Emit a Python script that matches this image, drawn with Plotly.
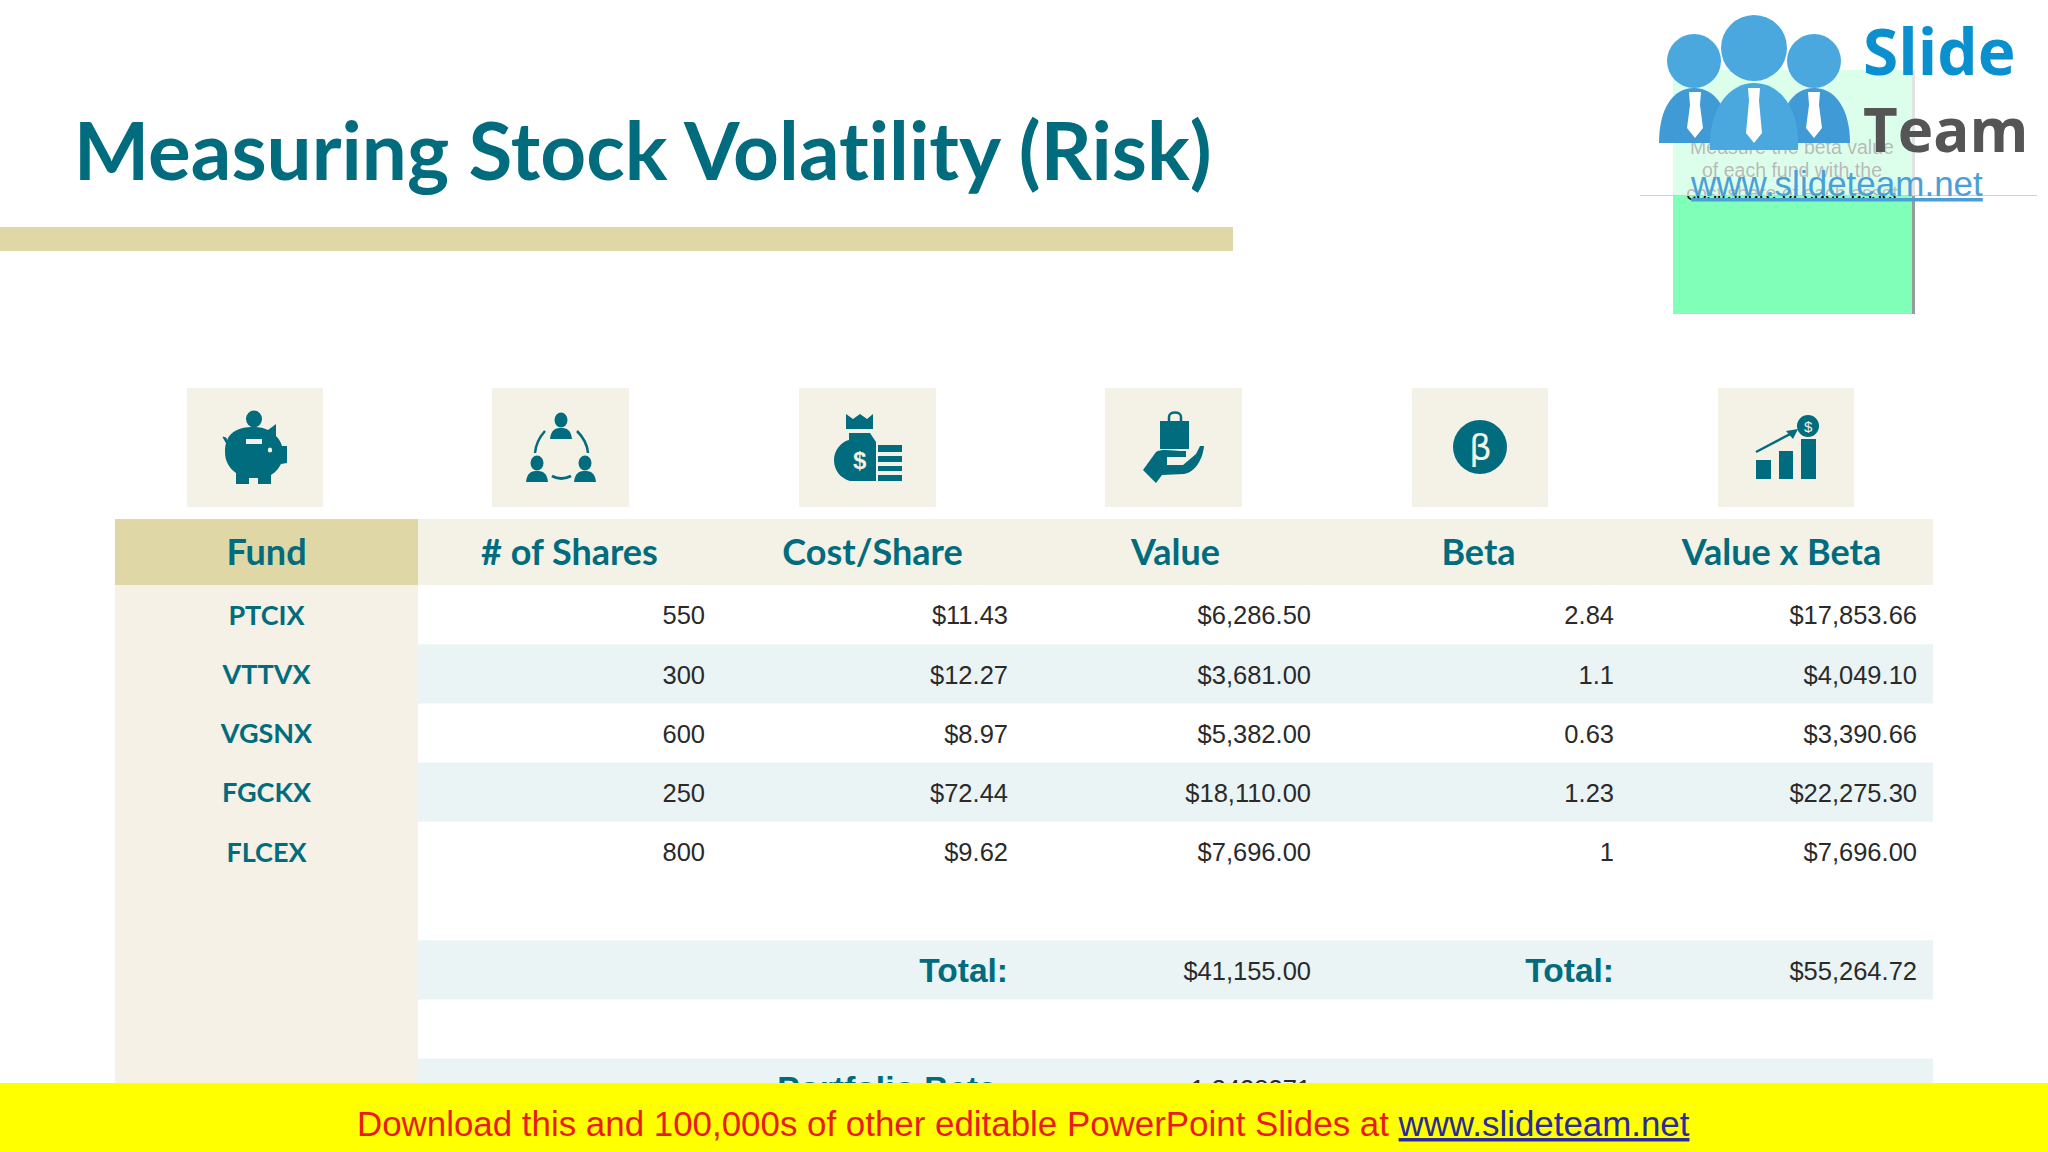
import plotly.graph_objects as go

# ---- data ----
funds = ["PTCIX", "VTTVX", "VGSNX", "FGCKX", "FLCEX"]
shares = [550, 300, 600, 250, 800]
cost_share = [11.43, 12.27, 8.97, 72.44, 9.62]
value = [6286.50, 3681.00, 5382.00, 18110.00, 7696.00]
beta = [2.84, 1.1, 0.63, 1.23, 1]
value_beta = [17853.66, 4049.10, 3390.66, 22275.30, 7696.00]
headers = ["Fund", "# of Shares", "Cost/Share", "Value", "Beta", "Value x Beta"]
total_value = 41155.00
total_value_beta = 55264.72
portfolio_beta = "1.3428371"
title = "Measuring Stock Volatility (Risk)"
note_lines = ["Measure the beta value", "of each fund with the", "cost/share of each asset"]

# ---- layout constants ----
W, H = 2048, 1152
TEAL = "#006c7d"
BOX = "#f4f2e6"
FUND_HEAD = "#dfd7a5"
FUND_COL = "#f6f1e6"
ALT = "#eaf4f5"
TXT = "#2a2a2a"
LEFT, FUND_R, COLW = 115, 418, 303
HEAD_T, HEAD_B, ROWH = 519, 585, 59.2
DY = 3.5  # text baseline correction
col_right = [FUND_R + COLW * (i + 1) - 16 for i in range(5)]
col_mid = [LEFT + (FUND_R - LEFT) / 2] + [FUND_R + COLW * (i + 0.5) for i in range(5)]
row_mid = [HEAD_B + ROWH * (i + 0.5) + DY for i in range(9)]
TEXT_FONT = "Liberation Sans"
HEAD_FONT = "Lato"

shapes = []


def rect(x0, y0, x1, y1, c, layer="below", opacity=1):
    shapes.append(dict(type="rect", xref="x", yref="y", x0=x0, y0=y0, x1=x1, y1=y1,
                       fillcolor=c, line_width=0, layer=layer, opacity=opacity))


def ell(cx, cy, rx, ry, c, layer="below"):
    shapes.append(dict(type="circle", xref="x", yref="y", x0=cx - rx, y0=cy - ry, x1=cx + rx, y1=cy + ry,
                       fillcolor=c, line_width=0, layer=layer))


def path(d, c=None, layer="below", stroke=None, sw=0):
    shapes.append(dict(type="path", xref="x", yref="y", path=d, layer=layer,
                       fillcolor=c if c else "rgba(0,0,0,0)",
                       line=dict(color=stroke if stroke else "rgba(0,0,0,0)", width=sw)))


# title band
rect(0, 227, 1233, 251, FUND_HEAD)

# table backgrounds
rect(LEFT, HEAD_B, FUND_R, 1083, FUND_COL)
rect(LEFT, HEAD_T, FUND_R, HEAD_B, FUND_HEAD)
rect(FUND_R, HEAD_T, 1933, HEAD_B, BOX)
for i in [1, 3, 6, 8]:
    rect(FUND_R, HEAD_B + ROWH * i, 1933, HEAD_B + ROWH * (i + 1), ALT)

# icon boxes
for x0, x1 in [(187, 323), (492, 629), (799, 936), (1105, 1242), (1412, 1548), (1718, 1854)]:
    rect(x0, 388, x1, 507, BOX)

# piggy bank
ell(254, 419, 8, 8.5, TEAL)
path("M 225 452 C 225 432 238 427 254 427 C 260 427 264 428 268 430 L 276 424 L 276 436 "
     "C 280 440 281 443 282 446 L 287 446 L 287 463 L 281 464 C 278 469 276 472 271 475 L 271 484 "
     "L 258 484 L 258 478 L 249 478 L 249 484 L 236 484 L 236 473 C 229 468 225 461 225 452 Z", TEAL)
path("M 226 438 L 223 437 L 228 446 Z", TEAL, stroke=TEAL, sw=1)
rect(246, 439, 262, 444, BOX)
ell(270, 450, 2.2, 2.6, BOX)

# people in a ring
for cx, cy in [(561, 420), (537, 463), (585, 463)]:
    ell(cx, cy, 6.5, 7.5, TEAL)
    path(f"M {cx-11} {cy+19} C {cx-10} {cy+10} {cx-6} {cy+8} {cx} {cy+8} "
         f"C {cx+6} {cy+8} {cx+10} {cy+10} {cx+11} {cy+19} Z", TEAL)
path("M 545 431 Q 536 441 535 453", stroke=TEAL, sw=2.5)
path("M 577 431 Q 587 441 588 453", stroke=TEAL, sw=2.5)
path("M 552 476 Q 561 481 571 476", stroke=TEAL, sw=3)

# money bag and coins
path("M 846 414 L 853 419 L 860 414 L 867 419 L 873 414 L 873 429 L 846 429 Z", TEAL)
path("M 849 433 L 870 433 L 876 442 L 876 481 L 850 481 C 840 478 834 470 834 460 "
     "C 834 450 842 441 849 440 Z", TEAL)
for y0, y1 in [(445, 452), (456, 462), (466, 471), (475, 481)]:
    rect(878, y0, 902, y1, TEAL)

# hand with shopping bag
rect(1160, 421, 1189, 449, TEAL)
path("M 1169 421 L 1169 417 C 1169 411 1181 411 1181 417 L 1181 421", stroke=TEAL, sw=2.5)
path("M 1143 470 L 1156 452 C 1162 448 1172 451 1186 451 L 1186 457 L 1167 457 L 1167 465 L 1183 465 "
     "L 1196 454 L 1200 446 L 1204 446 C 1203 458 1196 472 1184 474 L 1162 475 L 1156 483 Z", TEAL)

# beta badge
ell(1480, 447, 27, 27, TEAL)

# value x beta bars
for x0, x1, y0 in [(1756, 1771, 460), (1779, 1793, 451), (1801, 1816, 439)]:
    rect(x0, y0, x1, 479, TEAL)
ell(1808, 426, 11, 11, TEAL)
path("M 1756 452 L 1794 432", stroke=TEAL, sw=2.5)
path("M 1798 429 L 1786 431 L 1793 439 Z", TEAL)

# note box and logo plate
rect(1673, 70, 1912, 314, "#80ffb8")
rect(1912, 70, 1915, 314, "#9a9a9a")

UP = "above"
rect(1637, 0, 2037, 195, "rgba(255,255,255,0.72)", layer=UP)
rect(1640, 195, 2037, 196, "#cfcfcf", layer=UP)
B1, B2 = "#3f9ad6", "#4aa8df"
ell(1694, 61, 27, 27, B2, UP)
ell(1814, 61, 27, 27, B2, UP)
ell(1754, 48, 33, 33, B2, UP)
path("M 1659 143 C 1659 110 1672 88 1694 88 C 1716 88 1730 110 1730 143 Z", B1, UP)
path("M 1779 143 C 1779 110 1792 88 1814 88 C 1836 88 1850 110 1850 143 Z", B1, UP)
path("M 1710 150 C 1708 108 1730 83 1754 83 C 1780 83 1800 108 1798 150 Z", B2, UP)
for cx, top, bot in [(1695, 92, 138), (1754, 88, 143), (1814, 92, 138)]:
    path(f"M {cx-6} {top} L {cx+6} {top} L {cx+5} {top+13} L {cx+8} {bot-10} L {cx} {bot} "
         f"L {cx-8} {bot-10} L {cx-5} {top+13} Z", "#ffffff", UP)

# download banner
rect(0, 1083, W, H, "#ffff00", layer=UP)

traces = []


def text_col(xs, ys, texts, size, color, family, pos):
    traces.append(go.Scatter(x=xs, y=ys, text=texts, mode="text", textposition=pos, hoverinfo="skip",
                             textfont=dict(size=size, color=color, family=family), showlegend=False))


# headers
text_col(col_mid, [(HEAD_T + HEAD_B) / 2 + DY] * 6, [f"<b>{h}</b>" for h in headers], 36, TEAL, HEAD_FONT, "middle center")
# fund names
text_col([col_mid[0]] * 5, row_mid[:5], [f"<b>{f}</b>" for f in funds], 27, TEAL, HEAD_FONT, "middle center")
# numeric columns
cols = [
    [f"{v}" for v in shares],
    [f"${v:,.2f}" for v in cost_share],
    [f"${v:,.2f}" for v in value],
    [f"{v:g}" for v in beta],
    [f"${v:,.2f}" for v in value_beta],
]
for i, c in enumerate(cols):
    text_col([col_right[i]] * 5, row_mid[:5], c, 25.5, TXT, TEXT_FONT, "middle left")
# totals
text_col([col_right[1], col_right[3]], [row_mid[6]] * 2, ["<b>Total:</b>"] * 2, 33.5, TEAL, TEXT_FONT, "middle left")
text_col([col_right[2], col_right[4]], [row_mid[6]] * 2,
         [f"${total_value:,.2f}", f"${total_value_beta:,.2f}"], 25.5, TXT, TEXT_FONT, "middle left")
# portfolio row
text_col([col_right[1]], [row_mid[8]], ["<b>Portfolio Beta:</b>"], 33.5, TEAL, TEXT_FONT, "middle left")
text_col([col_right[2]], [row_mid[8]], [portfolio_beta], 25.5, TXT, TEXT_FONT, "middle left")
# note text
text_col([1792] * 3, [149, 172, 195], note_lines, 19.5, "#000000", TEXT_FONT, "middle center")

fig = go.Figure(traces)


def note(x, y, t, size, color, family, xanchor="left"):
    fig.add_annotation(x=x, y=y, xref="x", yref="y", text=t, showarrow=False, xanchor=xanchor, yanchor="middle",
                       font=dict(size=size, color=color, family=family))


note(71, 149, f"<b>{title}</b>", 80, TEAL, HEAD_FONT)
note(1861, 50, "<b>Slide</b>", 64, "#0a90cf", "Open Sans")
note(1861, 129, "<b>Team</b>", 60, "#555555", "Open Sans")
note(1688, 183, "<u>www.slideteam.net</u>", 35, "#4b9fd8", TEXT_FONT)
note(355, 1123, 'Download this and 100,000s of other editable PowerPoint Slides at '
     '<span style="color:#2a2a9a"><u>www.slideteam.net</u></span>', 34.9, "#e81c1c", TEXT_FONT)
note(860, 460, "<b>$</b>", 24, BOX, TEXT_FONT, "center")
note(1480, 447, "β", 36, BOX, "DejaVu Sans", "center")
note(1808, 426, "$", 15, BOX, TEXT_FONT, "center")

fig.update_layout(
    width=W, height=H, margin=dict(l=0, r=0, t=0, b=0), shapes=shapes,
    paper_bgcolor="#ffffff", plot_bgcolor="#ffffff", showlegend=False,
    xaxis=dict(range=[0, W], visible=False, fixedrange=True),
    yaxis=dict(range=[H, 0], visible=False, fixedrange=True),
)
fig.write_html("out.html", config=dict(displayModeBar=False),
               post_script="document.body.style.margin='0';"
                           "document.body.style.fontFeatureSettings=\"'liga' 0, 'clig' 0\";"
                           "document.documentElement.style.overflow='hidden';")
